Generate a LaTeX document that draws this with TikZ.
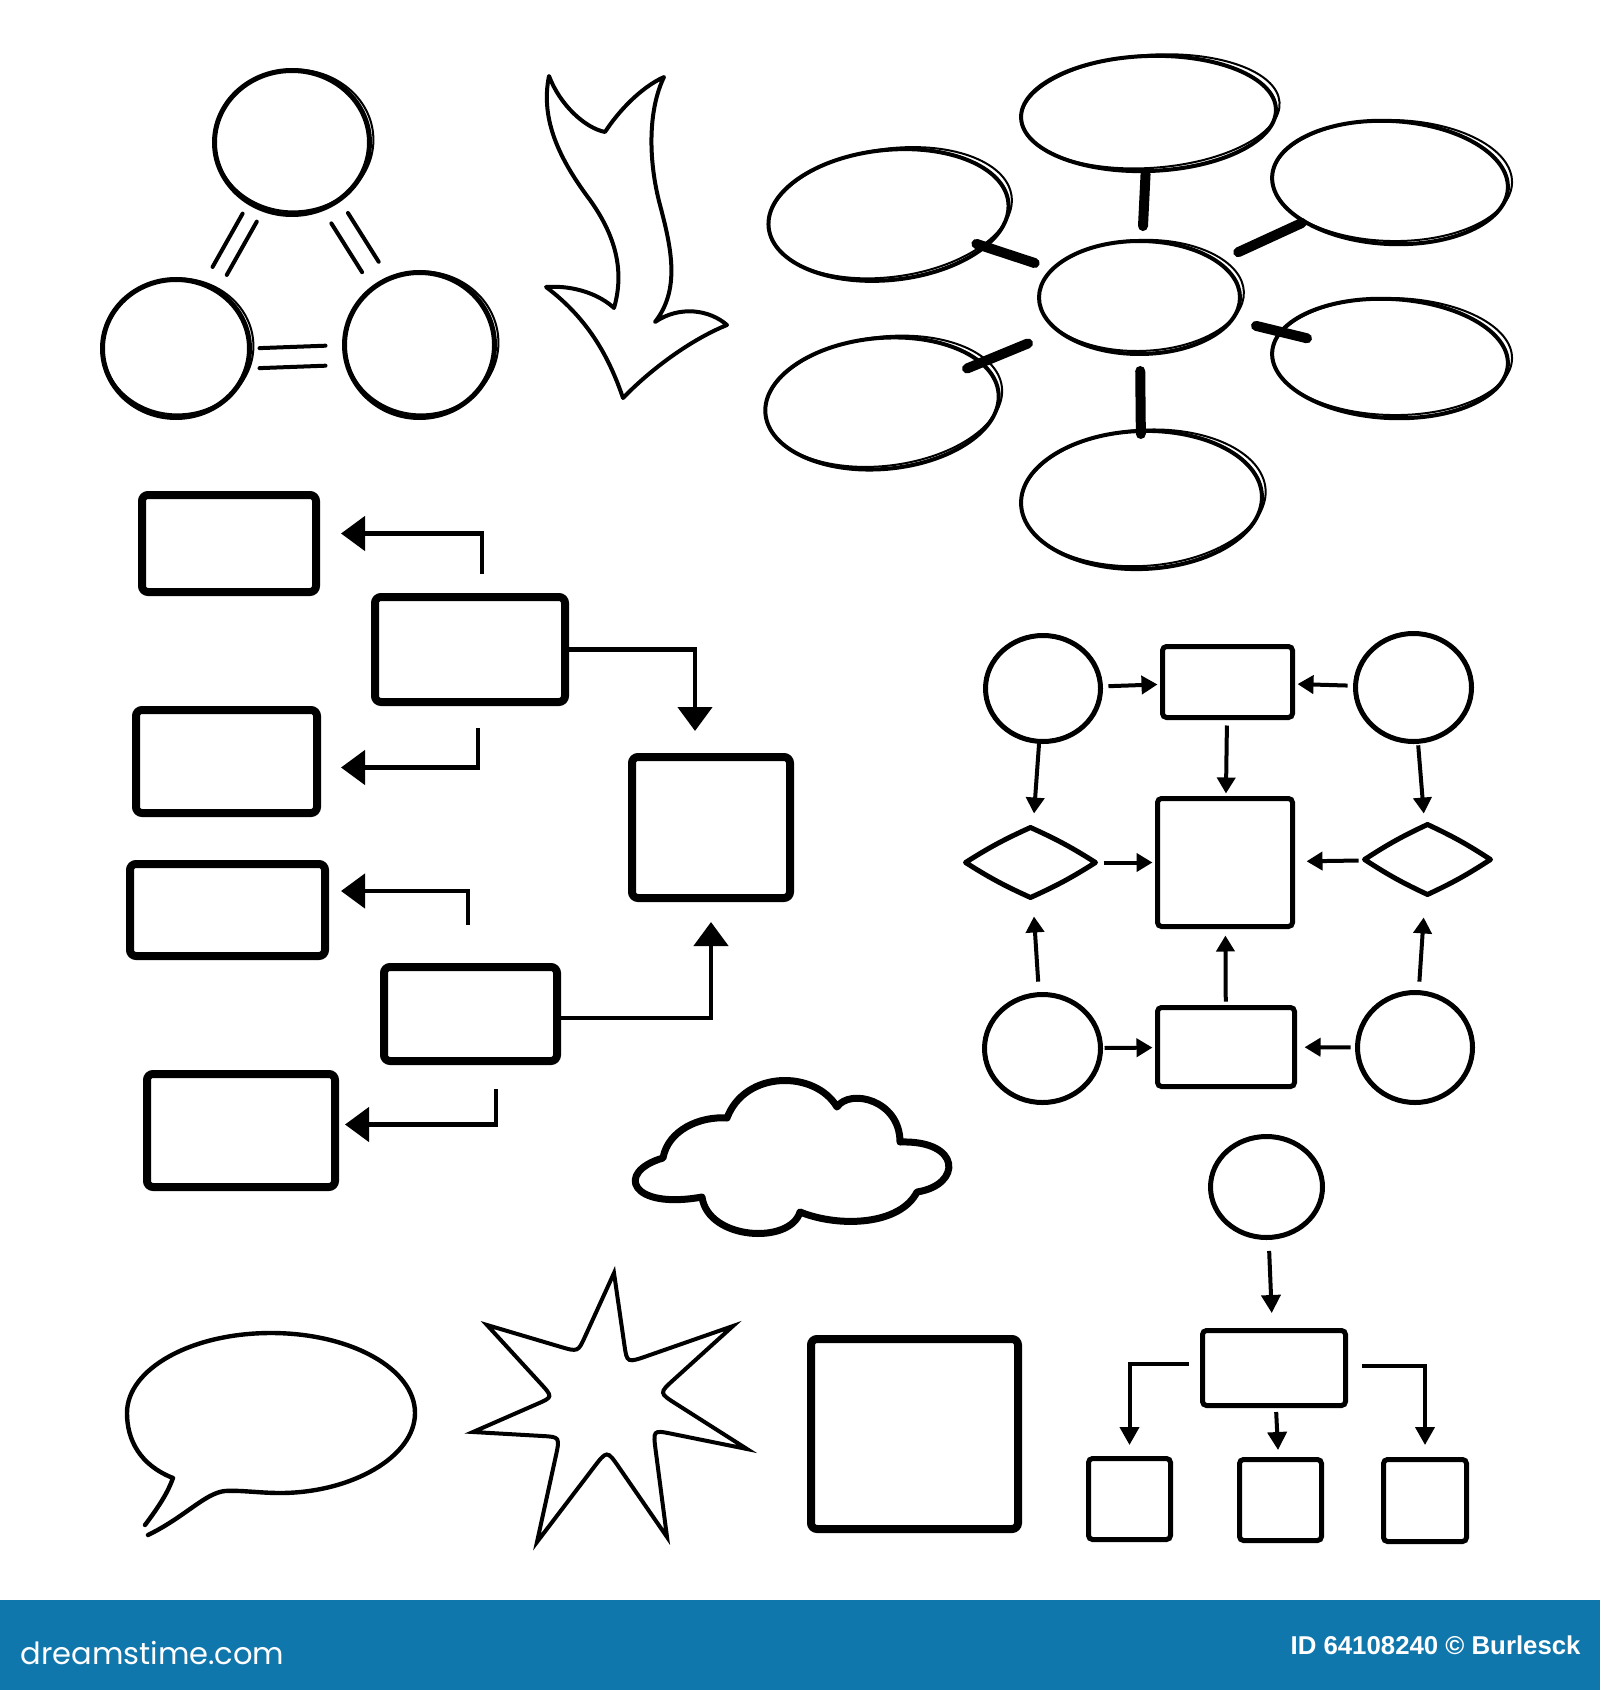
\documentclass[tikz,border=0pt]{standalone}
\usepackage{fontspec}
\usepackage{graphicx}
\usetikzlibrary{arrows.meta,calc,shapes.geometric}
\newfontfamily\idfont{Liberation Sans}
\newfontfamily\logofont{Poppins}
\definecolor{banner}{RGB}{16,119,173}
\tikzset{
  ink/.style={line cap=round, line join=round},
  skell/.style={ellipse, draw, inner sep=0pt, outer sep=0pt},
  skthin/.style={line width=1pt},
  fbox/.style={rectangle, draw, line width=4pt, inner sep=0pt, outer sep=0pt, rounded corners=3pt},
  rbox/.style={rectangle, draw, line width=2.5pt, inner sep=0pt, outer sep=0pt, rounded corners=2pt},
  rcirc/.style={ellipse, draw, line width=2.5pt, inner sep=0pt, outer sep=0pt},
  dmd/.style={rectangle, inner sep=0pt, outer sep=0pt},
  dline/.style={line width=2.5pt, line join=round},
  bigarrow/.style={line width=2.3pt, -{Triangle[length=12pt,width=17pt]}},
  sarrow/.style={line width=2pt, -{Triangle[length=8pt,width=9pt]}, shorten <=4pt, shorten >=2.5pt},
  tarrow/.style={line width=2pt, -{Triangle[length=9pt,width=9.5pt]}},
  bar/.style={line width=5pt, line cap=round},
  pairline/.style={line width=2pt, line cap=round}
}
% name, x, y, rx(px), ry(px), rotation, line width
\newcommand\sketchell[7]{%
  \node[skell, line width=#7, minimum width=#4pt, minimum height=#5pt, rotate=#6] (#1) at (#2,#3) {};
  \draw[skthin, rotate around={#6+2:(#2,#3)}] (#2+2,#3-2) ellipse ({#4+2} and {#5-1});
}
\begin{document}
\begin{tikzpicture}[x=0.5pt, y=-0.5pt]
\fill[white] (0,0) rectangle (1600,1690);
\useasboundingbox (0,0) rectangle (1600,1690);

% ---------- triangle of circles ----------
\sketchell{tA}{292}{142.5}{77.5}{72}{0}{2.5pt}
\sketchell{tB}{176}{348.5}{73.5}{69}{0}{2.5pt}
\sketchell{tC}{419.5}{345}{75}{72.5}{0}{2.5pt}
\draw[pairline, transform canvas={shift={(7.1,4)}}, shorten <=6.5pt, shorten >=9.5pt] (tA) -- (tB);
\draw[pairline, transform canvas={shift={(-7.1,-4)}}, shorten <=6.5pt, shorten >=9.5pt] (tA) -- (tB);
\draw[pairline, transform canvas={shift={(8.3,-5.2)}}, shorten <=8pt, shorten >=9.5pt] (tA) -- (tC);
\draw[pairline, transform canvas={shift={(-8.3,5.2)}}, shorten <=8pt, shorten >=9.5pt] (tA) -- (tC);
\draw[pairline, shorten <=5pt, shorten >=9.5pt] ([yshift=0pt]tB.east) -- ([yshift=0pt]tC.west);
\draw[pairline, shorten <=5pt, shorten >=9.5pt] ([yshift=-10pt]tB.east) -- ([yshift=-10pt]tC.west);

% ---------- wavy arrow ----------
\draw[ink, line width=2pt] (549,76) .. controls (560,105) and (585,128) .. (605,132)
  .. controls (618,112) and (640,88) .. (664,77)
  .. controls (648,110) and (648,160) .. (660,205)
  .. controls (672,250) and (680,290) .. (655,322)
  .. controls (680,305) and (710,310) .. (727,325)
  .. controls (690,340) and (650,370) .. (623,398)
  .. controls (610,360) and (590,320) .. (546,287)
  .. controls (575,285) and (600,295) .. (614,308)
  .. controls (625,270) and (615,235) .. (590,200)
  .. controls (560,160) and (540,120) .. (549,76) -- cycle;

% ---------- ellipse cluster ----------
\sketchell{ctop}{1148.5}{113.5}{127.5}{57.5}{2}{2pt}
\sketchell{cul}{888.5}{215}{120.5}{65}{6}{2pt}
\sketchell{cur}{1390}{182.5}{118}{61.5}{-3}{2pt}
\sketchell{cc}{1139.5}{297.5}{100.5}{56.5}{0}{2pt}
\sketchell{cll}{882}{403.5}{117}{65.5}{5}{2pt}
\sketchell{clr}{1390}{358.5}{118}{59.5}{-3}{2pt}
\sketchell{cbt}{1141.5}{500}{120.5}{69}{2}{2pt}
\draw[bar, shorten <=7.5pt, shorten >=1.5pt] (cc) -- (ctop);
\draw[bar, shorten <=9.5pt, shorten >=-4.5pt] (cc) -- (cul);
\draw[bar, shorten <=11.5pt, shorten >=1.5pt] (cc) -- (cur);
\draw[bar, shorten <=16.5pt, shorten >=-7.5pt] (cc) -- (cll);
\draw[bar, shorten <=12.5pt, shorten >=-13.5pt] (cc) -- (clr);
\draw[bar, shorten <=8.5pt, shorten >=-1.5pt] (cc) -- (cbt);

% ---------- left flowchart ----------
\node[fbox, minimum width=87pt, minimum height=48.5pt] (A) at (229,543.5) {};
\node[fbox, minimum width=95pt, minimum height=52.5pt] (B) at (470,649.5) {};
\node[fbox, minimum width=90.5pt, minimum height=51.5pt] (C) at (226.5,761.5) {};
\node[fbox, minimum width=97.5pt, minimum height=46pt] (D) at (227.5,910) {};
\node[fbox, minimum width=86.5pt, minimum height=47pt] (E) at (470.5,1014) {};
\node[fbox, minimum width=94pt, minimum height=56.5pt] (F) at (241,1130.5) {};
\node[fbox, minimum width=79pt, minimum height=70.5pt] (G) at (711,827.5) {};
\coordinate (a1) at (482,574);
\coordinate (c1) at (478,728);
\coordinate (d1) at (468,925);
\coordinate (f1) at (496,1089);
\draw[bigarrow, shorten >=12.5pt] (a1) |- ([yshift=5pt]A.east);
\draw[bigarrow, shorten >=12pt] (c1) |- ([yshift=-3pt]C.east);
\draw[bigarrow, shorten >=8pt] (d1) |- ([yshift=9.5pt]D.east);
\draw[bigarrow, shorten >=5pt] (f1) |- ([yshift=3pt]F.east);
\draw[bigarrow, shorten >=13pt] (B.east) -| ([xshift=-8pt]G.north);
\draw[bigarrow, shorten >=12pt] ([yshift=-2pt]E.east) -| (G.south);

% ---------- right flowchart ----------
\node[rcirc, minimum width=57.5pt, minimum height=53pt] (r1) at (1043,688.5) {};
\node[rcirc, minimum width=58pt, minimum height=54pt] (r2) at (1413.5,687.5) {};
\node[rcirc, minimum width=58pt, minimum height=54pt] (r3) at (1042.5,1048.5) {};
\node[rcirc, minimum width=57.5pt, minimum height=55pt] (r4) at (1415,1047.5) {};
\node[rbox, minimum width=65pt, minimum height=35.5pt] (rt) at (1227.5,682) {};
\node[rbox, minimum width=68.5pt, minimum height=39.5pt] (rb) at (1226,1047) {};
\node[rbox, minimum width=67.5pt, minimum height=64pt] (rc) at (1225,862.5) {};
\node[dmd, minimum width=65pt, minimum height=35pt] (dl) at (1030.5,862.5) {};
\node[dmd, minimum width=63pt, minimum height=35pt] (dr) at (1427.5,859.5) {};
\draw[dline] (dl.west) to[bend left=4] (dl.north) to[bend left=4] (dl.east)
  to[bend left=4] (dl.south) to[bend left=4] (dl.west) -- cycle;
\draw[dline] (dr.west) to[bend left=4] (dr.north) to[bend left=4] (dr.east)
  to[bend left=4] (dr.south) to[bend left=4] (dr.west) -- cycle;
\draw[sarrow] (r1) -- (rt);
\draw[sarrow] (r2) -- (rt);
\draw[sarrow] (rt) -- (rc);
\draw[sarrow, shorten <=1pt, shorten >=7pt] (r1) -- (dl);
\draw[sarrow, shorten <=2pt, shorten >=5.5pt] (r2) -- (dr);
\draw[sarrow] (dl) -- (rc);
\draw[sarrow, shorten <=3pt, shorten >=7pt] (dr) -- (rc);
\draw[sarrow, shorten <=6.5pt, shorten >=9.5pt] (r3) -- (dl);
\draw[sarrow, shorten <=5.5pt, shorten >=11.5pt] (r4) -- (dr);
\draw[sarrow, shorten <=3pt, shorten >=4.5pt] (rb) -- (rc);
\draw[sarrow, shorten <=2pt, shorten >=2.5pt] (r3) -- (rb);
\draw[sarrow, shorten <=3.5pt, shorten >=5pt] (r4) -- (rb);

% ---------- cloud ----------
\draw[ink, line width=3.5pt] (702,1197) .. controls (708,1240) and (790,1245) .. (800,1212)
  .. controls (840,1228) and (900,1225) .. (917,1192)
  .. controls (962,1185) and (962,1140) .. (900,1142)
  .. controls (900,1100) and (850,1088) .. (837,1107)
  .. controls (815,1070) and (745,1070) .. (727,1118)
  .. controls (700,1116) and (668,1130) .. (663,1158)
  .. controls (615,1172) and (630,1210) .. (702,1197) -- cycle;

% ---------- tree ----------
\node[rcirc, minimum width=56pt, minimum height=50.5pt] (tc) at (1266.5,1187) {};
\node[rbox, minimum width=71.5pt, minimum height=37.5pt] (tr) at (1274,1368) {};
\node[rbox, minimum width=41pt, minimum height=40.5pt] (t1) at (1129.5,1499) {};
\node[rbox, minimum width=41pt, minimum height=40.5pt] (t2) at (1280.5,1500) {};
\node[rbox, minimum width=41.5pt, minimum height=41pt] (t3) at (1425,1500.5) {};
\draw[tarrow, shorten <=6.75pt, shorten >=8.75pt] (tc) -- (tr);
\draw[tarrow, shorten <=3.25pt, shorten >=4.75pt] (tr) -- (t2);
\draw[tarrow, shorten <=7pt, shorten >=6.75pt] ([yshift=2pt]tr.west) -| (t1.north);
\draw[tarrow, shorten <=8pt, shorten >=7.25pt] ([yshift=1pt]tr.east) -| (t3.north);

% ---------- speech bubble ----------
\draw[ink, line width=2.2pt] (145,1525) .. controls (160,1505) and (168,1492) .. (173,1478)
  .. controls (140,1465) and (127,1440) .. (127,1413)
  .. controls (127,1369) and (191,1333) .. (271,1333)
  .. controls (351,1333) and (415,1369) .. (415,1413)
  .. controls (415,1457) and (351,1493) .. (280,1493)
  .. controls (260,1493) and (240,1490) .. (225,1491)
  .. controls (205,1493) and (185,1517) .. (148,1535);

% ---------- star ----------
\coordinate (s1) at (614,1273); \coordinate (i1) at (627,1363);
\coordinate (s2) at (733,1326); \coordinate (i2) at (659,1393);
\coordinate (s3) at (747,1449); \coordinate (i3) at (653,1430);
\coordinate (s4) at (667,1537); \coordinate (i4) at (607,1450);
\coordinate (s5) at (537,1542); \coordinate (i5) at (560,1437);
\coordinate (s6) at (473,1432); \coordinate (i6) at (553,1397);
\coordinate (s7) at (487,1325); \coordinate (i7) at (578,1352);
\draw[line width=2pt, line join=miter] (s1) -- ($(i1)!.2!(s1)$) .. controls (i1) .. ($(i1)!.2!(s2)$)
  -- (s2) -- ($(i2)!.2!(s2)$) .. controls (i2) .. ($(i2)!.2!(s3)$)
  -- (s3) -- ($(i3)!.2!(s3)$) .. controls (i3) .. ($(i3)!.2!(s4)$)
  -- (s4) -- ($(i4)!.2!(s4)$) .. controls (i4) .. ($(i4)!.2!(s5)$)
  -- (s5) -- ($(i5)!.2!(s5)$) .. controls (i5) .. ($(i5)!.2!(s6)$)
  -- (s6) -- ($(i6)!.2!(s6)$) .. controls (i6) .. ($(i6)!.2!(s7)$)
  -- (s7) -- ($(i7)!.2!(s7)$) .. controls (i7) .. ($(i7)!.2!(s1)$) -- cycle;

% ---------- square ----------
\node[fbox, minimum width=103.5pt, minimum height=95pt] (sq) at (914.5,1434) {};

% ---------- banner ----------
\fill[banner] (0,1600) rectangle (1600,1690);
\node[anchor=base west, inner sep=0pt, text=white] (logo) at (20,1664) {\resizebox{132pt}{!}{\logofont dreamstime.com}};
\node[anchor=base east, inner sep=0pt, text=white] (idtext) at (1581,1654) {\resizebox{145pt}{!}{\idfont\bfseries ID 64108240 © Burlesck}};
\end{tikzpicture}
\end{document}
